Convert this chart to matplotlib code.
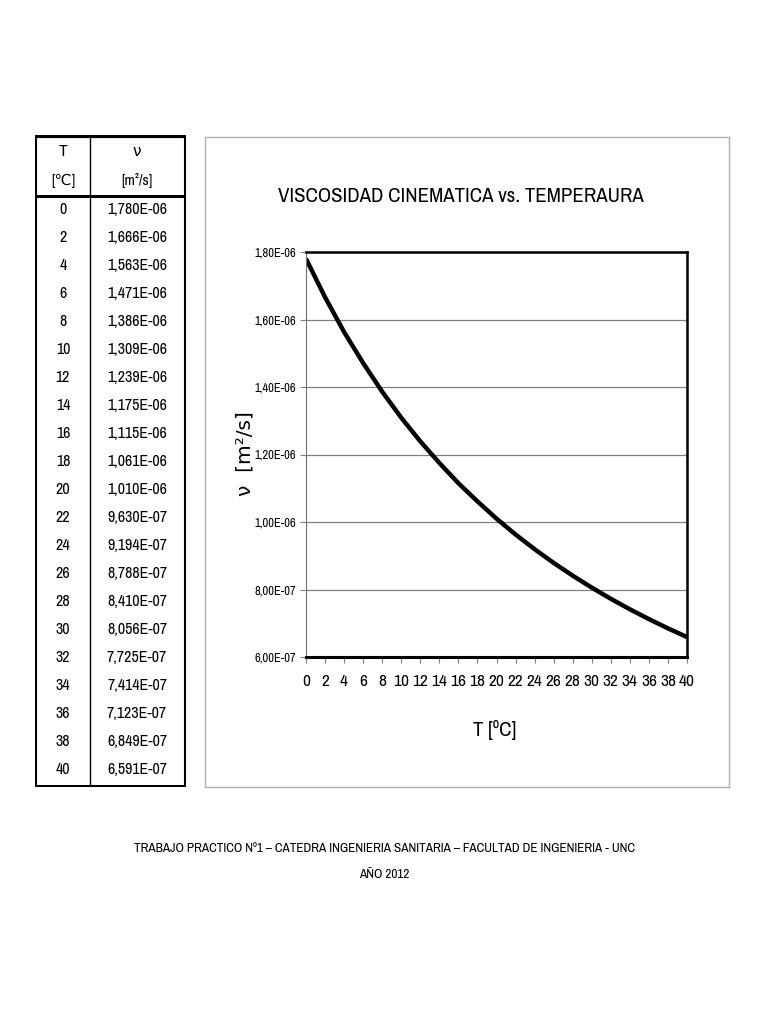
import matplotlib
matplotlib.use("Agg")
import matplotlib.pyplot as plt
from matplotlib.ticker import FixedLocator

temps = [0, 2, 4, 6, 8, 10, 12, 14, 16, 18, 20, 22, 24, 26, 28, 30, 32, 34, 36, 38, 40]
nu = [1.780e-06, 1.666e-06, 1.563e-06, 1.471e-06, 1.386e-06, 1.309e-06, 1.239e-06,
      1.175e-06, 1.115e-06, 1.061e-06, 1.010e-06, 9.630e-07, 9.194e-07, 8.788e-07,
      8.410e-07, 8.056e-07, 7.725e-07, 7.414e-07, 7.123e-07, 6.849e-07, 6.591e-07]
nu_labels = ["1,780E-06", "1,666E-06", "1,563E-06", "1,471E-06", "1,386E-06", "1,309E-06",
             "1,239E-06", "1,175E-06", "1,115E-06", "1,061E-06", "1,010E-06", "9,630E-07",
             "9,194E-07", "8,788E-07", "8,410E-07", "8,056E-07", "7,725E-07", "7,414E-07",
             "7,123E-07", "6,849E-07", "6,591E-07"]
y_ticks = [6.0e-07, 8.0e-07, 1.0e-06, 1.2e-06, 1.4e-06, 1.6e-06, 1.8e-06]
y_tick_labels = ["6,00E-07", "8,00E-07", "1,00E-06", "1,20E-06", "1,40E-06", "1,60E-06", "1,80E-06"]
x_ticks = list(range(0, 41, 2))

NF = ["Archivo Narrow", "DejaVu Sans"]

W, H = 768, 1024
fig = plt.figure(figsize=(W / 100, H / 100), dpi=100)

def px_axes(x0, y0, x1, y1, **kw):
    return fig.add_axes([x0 / W, 1 - y1 / H, (x1 - x0) / W, (y1 - y0) / H], **kw)

# ---- Table ----
tab = px_axes(35, 135, 186, 787)
tab.set_xlim(35, 186)
tab.set_ylim(787, 135)
tab.axis("off")
tab.plot([35, 186], [136, 136], color="black", lw=3, solid_capstyle="butt")
tab.plot([35, 186], [196, 196], color="black", lw=2.2, solid_capstyle="butt")
tab.plot([35, 186], [786, 786], color="black", lw=2.2, solid_capstyle="butt")
tab.plot([36, 36], [136, 786], color="black", lw=1.5)
tab.plot([185, 185], [136, 786], color="black", lw=1.5)
tab.plot([90, 90], [136, 786], color="black", lw=1.0)
tab.text(63, 152, "T", ha="center", va="center", fontsize=12.5, family=NF)
tab.text(63, 181, "[℃]", ha="center", va="center", fontsize=11, family=NF)
tab.text(137, 152, "ν", ha="center", va="center", fontsize=11, family=NF)
tab.text(137, 181, "[m²/s]", ha="center", va="center", fontsize=11, family=NF)
row_y0, row_dy = 210, 27.95
for i, (t, lab) in enumerate(zip(temps, nu_labels)):
    yy = row_y0 + i * row_dy
    tab.text(63, yy, str(t), ha="center", va="center", fontsize=11.5, family=NF)
    tab.text(137, yy, lab, ha="center", va="center", fontsize=11.5, family=NF)

# ---- Chart frame ----
frame = px_axes(205, 137, 729, 787)
frame.set_xticks([]); frame.set_yticks([])
for s in frame.spines.values():
    s.set_color("#b0b0b0"); s.set_linewidth(1.0)
frame.set_zorder(0)

ax = px_axes(306, 252, 687, 657)
ax.set_zorder(1)
ax.plot(temps, nu, color="black", lw=3.2, solid_capstyle="butt")
ax.set_xlim(0, 40)
ax.set_ylim(6.0e-07, 1.8e-06)
ax.yaxis.set_major_locator(FixedLocator(y_ticks))
ax.set_yticklabels(y_tick_labels, family=NF, fontsize=9)
ax.set_xticks(x_ticks)
ax.set_xticklabels([str(x) for x in x_ticks], family=NF, fontsize=12.5)
ax.grid(axis="y", color="#808080", lw=0.9)
ax.set_axisbelow(True)
ax.tick_params(axis="y", length=4, width=0.8, color="#808080", pad=3)
ax.tick_params(axis="x", length=4, width=0.8, color="#808080", pad=8)
ax.spines["left"].set_color("#707070")
ax.spines["bottom"].set_linewidth(2.2)
ax.spines["top"].set_linewidth(1.8)
ax.spines["right"].set_linewidth(1.8)

fig.text(495 / W, 1 - 730 / H, "T [ºC]", ha="center", va="center", fontsize=15, family=NF)
fig.text(245 / W, 1 - 454 / H, "ν  [m²/s]", ha="center", va="center", rotation=90,
         fontsize=14.5, family="DejaVu Sans")
fig.text(461 / W, 1 - 196 / H, "VISCOSIDAD CINEMATICA vs. TEMPERAURA", ha="center", va="center",
         family=NF, fontsize=15)

fig.text(384 / W, 1 - 849 / H, "TRABAJO PRACTICO Nº1 – CATEDRA INGENIERIA SANITARIA – FACULTAD DE INGENIERIA - UNC",
         ha="center", va="center", fontsize=9.5, family=NF)
fig.text(384 / W, 1 - 875 / H, "AÑO 2012", ha="center", va="center", fontsize=9.5, family=NF)

fig.savefig("out.png", dpi=100, facecolor="white")
